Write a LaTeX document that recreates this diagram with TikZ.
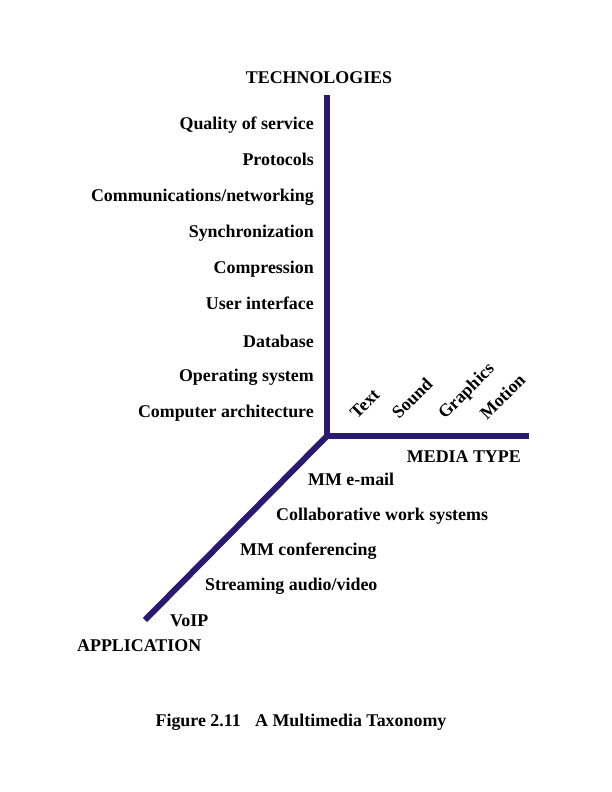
\documentclass[tikz,border=0pt]{standalone}
\usepackage{fontspec}
\setmainfont{Liberation Serif}
\definecolor{axis}{HTML}{2B1B70}
\begin{document}
\begin{tikzpicture}[x=1pt,y=-1pt,
  lbl/.style={font=\fontsize{17.9}{20}\selectfont\bfseries, inner sep=0pt},
  ax/.style={draw=axis, line width=6pt}]
\useasboundingbox (0,0) rectangle (612,792);
\coordinate (top) at (327,95);
\coordinate (origin) at (327,436);
\coordinate (right) at (529,436);
\coordinate (low) at (145,620);
\draw[ax] (top) -- (origin) -- (right);
\draw[ax] (origin) -- (low);
% technologies
\node[lbl, anchor=base] (tech) at (319,84) {TECHNOLOGIES};
\node[lbl, anchor=base east] (t1) at (314,129) {Quality of service};
\node[lbl, anchor=base east] (t2) at (314,165) {Protocols};
\node[lbl, anchor=base east] (t3) at (314,201) {Communications/networking};
\node[lbl, anchor=base east] (t4) at (314,237) {Synchronization};
\node[lbl, anchor=base east] (t5) at (314,273) {Compression};
\node[lbl, anchor=base east] (t6) at (314,309) {User interface};
\node[lbl, anchor=base east] (t7) at (314,347) {Database};
\node[lbl, anchor=base east] (t8) at (314,381) {Operating system};
\node[lbl, anchor=base east] (t9) at (314,417) {Computer architecture};
% media
\node[lbl, anchor=base west, rotate=45] (m1) at (357,420) {Text};
\node[lbl, anchor=base west, rotate=45] (m2) at (399,420) {Sound};
\node[lbl, anchor=base west, rotate=45] (m3) at (445,420) {Graphics};
\node[lbl, anchor=base west, rotate=45] (m4) at (487,421) {Motion};
\node[lbl, anchor=base east] (media) at (521,462) {MEDIA TYPE};
% applications
\node[lbl, anchor=base west] (a1) at (308,485) {MM e-mail};
\node[lbl, anchor=base west] (a2) at (276,520) {Collaborative work systems};
\node[lbl, anchor=base west] (a3) at (240,555) {MM conferencing};
\node[lbl, anchor=base west] (a4) at (205,590) {Streaming audio/video};
\node[lbl, anchor=base west] (a5) at (170,626) {VoIP};
\node[lbl, anchor=base west] (app) at (77,651) {APPLICATION};
% caption
\node[lbl, anchor=base] (cap) at (301,726) {Figure 2.11\hspace{0.8em}A Multimedia Taxonomy};
\end{tikzpicture}
\end{document}
